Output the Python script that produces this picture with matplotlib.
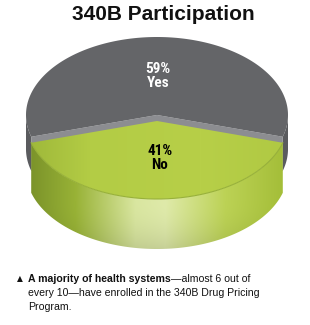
import numpy as np
import matplotlib
matplotlib.use("Agg")
import matplotlib.pyplot as plt
from matplotlib.patches import Polygon
from matplotlib.colors import to_rgb
from matplotlib import font_manager

# datos del grafico
categorias = ["Yes", "No"]
porcentajes = [59, 41]
titulo = "340B Participation"
nota_negrita = "A majority of health systems"
nota_resto = "\u2014almost 6 out of"
nota_lineas = ["every 10\u2014have enrolled in the 340B Drug Pricing", "Program."]

# geometria del pastel (pixeles)
cx, cy = 157, 115
a, b = 131, 78
prof = 50
prof_gris = 34
despl = 6

fig = plt.figure(figsize=(3.10, 3.25), dpi=100)
ax = fig.add_axes([0, 0, 1, 1])
ax.set_xlim(0, 310)
ax.set_ylim(325, 0)
ax.axis("off")

instaladas = {f.name for f in font_manager.fontManager.ttflist}
estrecha = "Roboto"
for nombre in ["Liberation Sans Narrow", "Roboto Condensed", "DejaVu Sans Condensed", "Open Sans Condensed"]:
    if nombre in instaladas:
        estrecha = nombre
        break


def punto(t, dy=0.0):
    return cx + a * np.cos(t), cy - b * np.sin(t) + dy


def arco(t0, t1, dy=0.0, n=200):
    t = np.linspace(t0, t1, n)
    x, y = punto(t, dy)
    return np.column_stack([x, y])


def gradiente(colores, posiciones, oscurecer=0.0):
    xs = np.arange(310)
    ys = np.arange(325)
    rgb = np.array([to_rgb(c) for c in colores])
    fila = np.column_stack([np.interp(xs, posiciones, rgb[:, k]) for k in range(3)])
    img = np.repeat(fila[None, :, :], len(ys), axis=0)
    if oscurecer:
        fac = 1 - oscurecer * np.clip((ys - 200) / 50.0, 0, 1) ** 2
        img = img * fac[:, None, None]
    return img


def rellenar(poly, img, z):
    patch = Polygon(poly, closed=True, facecolor="none", edgecolor="none", zorder=z)
    ax.add_patch(patch)
    im = ax.imshow(img, extent=(0, 310, 325, 0), origin="upper", zorder=z,
                   interpolation="bilinear", aspect="auto")
    im.set_clip_path(patch)


# angulos a partir de los porcentajes (No centrado abajo)
ang_no = porcentajes[1] / 100 * 2 * np.pi
t_ini = 1.5 * np.pi - ang_no / 2
t_fin = 1.5 * np.pi + ang_no / 2

gris = "#646568"
gris_lado = "#5a5b5e"
gris_corte = "#8c8d91"

# lado gris visible
for t0, t1 in [(np.pi, t_ini), (t_fin, 2 * np.pi)]:
    arriba = arco(t0, t1)
    abajo = arco(t1, t0, prof_gris)
    ax.add_patch(Polygon(np.vstack([arriba, abajo]), facecolor=gris_lado, edgecolor="none", zorder=1))

# caras de corte del sector gris
for t in [t_ini, t_fin]:
    px, py = punto(t)
    poly = [(cx, cy), (px, py), (px, py + prof_gris), (cx, cy + prof_gris)]
    ax.add_patch(Polygon(poly, facecolor=gris_corte, edgecolor="none", zorder=2))

# cara superior gris
sup_gris = np.vstack([[cx, cy], arco(t_fin, t_ini + 2 * np.pi, n=400)])
ax.add_patch(Polygon(sup_gris, facecolor=gris, edgecolor="none", zorder=3))

# lado verde con brillo
lado = np.vstack([arco(t_ini, t_fin, despl), arco(t_fin, t_ini, despl + prof)])
img_lado = gradiente(["#7b932a", "#98b236", "#d9e6a0", "#dfeaaa", "#bcd255", "#a3bd37"],
                     [30, 75, 135, 165, 225, 285], oscurecer=0.12)
rellenar(lado, img_lado, 4)

# cara superior verde
sup_verde = np.vstack([[cx, cy + despl], arco(t_ini, t_fin, despl)])
img_sup = gradiente(["#9fb93a", "#b3cc45", "#b7cf48", "#b0c943"], [30, 90, 200, 285])
rellenar(sup_verde, img_sup, 5)
borde = arco(t_ini, t_fin, despl)
ax.plot(borde[:, 0], borde[:, 1], color="#98b13a", lw=0.8, zorder=6)

# etiquetas
fuente = [estrecha, "DejaVu Sans"]
ax.text(158, 76, f"{porcentajes[0]}%\n{categorias[0]}", color="white", ha="center", va="center",
        fontsize=11, fontweight="bold", family=fuente, linespacing=1.0, zorder=7)
ax.text(160, 158, f"{porcentajes[1]}%\n{categorias[1]}", color="black", ha="center", va="center",
        fontsize=11, fontweight="bold", family=fuente, linespacing=1.0, zorder=7)

# titulo
ax.text(163, 14, titulo, ha="center", va="center", fontsize=15, fontweight="heavy",
        family=["Liberation Sans", "DejaVu Sans"], color="#111111")

# nota inferior
fn = ["Liberation Sans", "DejaVu Sans"]
tam = 7.6
ax.text(17, 279, "\u25b2", fontsize=5.5, va="center", ha="left", family=["DejaVu Sans"], color="#111111")
t1 = ax.text(28, 279, nota_negrita, fontsize=tam, fontweight="bold", va="center", ha="left",
             family=fn, color="#111111")
fig.canvas.draw()
bb = t1.get_window_extent().transformed(ax.transData.inverted())
ax.text(max(bb.x0, bb.x1), 279, nota_resto, fontsize=tam, va="center", ha="left", family=fn, color="#111111")
for i, linea in enumerate(nota_lineas):
    ax.text(28, 293 + i * 13.5, linea, fontsize=tam, va="center", ha="left", family=fn, color="#111111")

fig.savefig("out.png", dpi=100)
